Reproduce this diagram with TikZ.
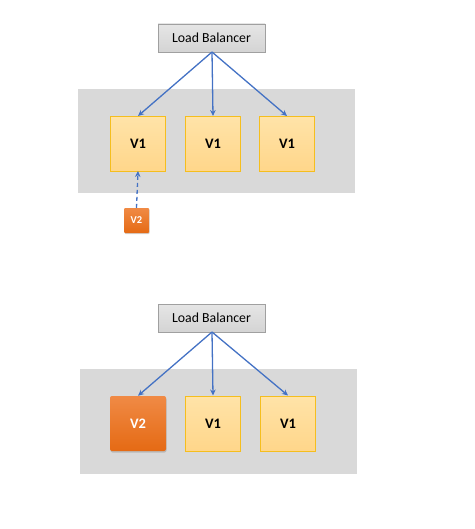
\documentclass[tikz,border=0pt]{standalone}
\usepackage{fontspec}
\setmainfont{Carlito}
\usetikzlibrary{arrows.meta,shadows}
\definecolor{panel}{HTML}{D9D9D9}
\definecolor{lbfill}{HTML}{D4D4D4}
\definecolor{lbdraw}{HTML}{A0A0A0}
\definecolor{vtop}{HTML}{FFE3A8}
\definecolor{vbot}{HTML}{FFD68A}
\definecolor{vdraw}{HTML}{F5BE1E}
\definecolor{otop}{HTML}{F08A45}
\definecolor{obot}{HTML}{E56A14}
\definecolor{arr}{HTML}{4472C4}
\tikzset{
  lb/.style={draw=lbdraw, line width=0.8pt, top color=lbfill!60!white, bottom color=lbfill, minimum width=107pt, minimum height=28pt, inner sep=0pt, font=\fontsize{13.8}{16}\selectfont},
  vbox/.style={draw=vdraw, line width=1pt, top color=vtop, bottom color=vbot, minimum width=55pt, minimum height=55pt, inner sep=0pt, font=\bfseries\fontsize{14.5}{16}\selectfont},
  v2big/.style={top color=otop, bottom color=obot, rounded corners=2pt, minimum width=56pt, minimum height=55pt, inner sep=0pt, text=white, font=\bfseries\fontsize{14.5}{16}\selectfont, drop shadow={shadow xshift=0.5pt, shadow yshift=-1.5pt, opacity=0.35}},
  v2small/.style={top color=otop, bottom color=obot, rounded corners=1pt, minimum width=25pt, minimum height=25pt, inner sep=0pt, text=white, font=\bfseries\fontsize{10.5}{12}\selectfont, drop shadow={shadow xshift=0.5pt, shadow yshift=-1pt, opacity=0.35}},
  pan/.style={fill=panel, draw=none},
  conn/.style={draw=arr, line width=1.3pt, -{Stealth[length=6pt,width=5.5pt]}},
}
\begin{document}
\begin{tikzpicture}[x=1pt,y=-1pt]
\useasboundingbox (0,0) rectangle (474,529);
% top diagram
\fill[pan] (78,89) rectangle (355,193);
\node[lb] (lb1) at (211.5,38) {Load Balancer};
\node[vbox] (a1) at (138,144) {V1};
\node[vbox] (a2) at (213,144) {V1};
\node[vbox] (a3) at (287,144) {V1};
\node[v2small] (n2) at (136.5,220.5) {V2};
\coordinate (o1) at (212,52);
\draw[conn] (o1) -- (a1.north);
\draw[conn] (o1) -- (a2.north);
\draw[conn] (o1) -- (a3.north);
\draw[conn, dashed, dash pattern=on 4pt off 3pt] (n2.north) -- ([yshift=1pt]a1.south);
% bottom diagram
\fill[pan] (80,369) rectangle (357,474);
\node[lb] (lb2) at (211.5,318) {Load Balancer};
\node[v2big] (b1) at (138,423.5) {V2};
\node[vbox] (b2) at (213,423.5) {V1};
\node[vbox] (b3) at (288,423.5) {V1};
\coordinate (o2) at (212,332);
\draw[conn] (o2) -- (b1.north);
\draw[conn] (o2) -- (b2.north);
\draw[conn] (o2) -- (b3.north);
\end{tikzpicture}
\end{document}
